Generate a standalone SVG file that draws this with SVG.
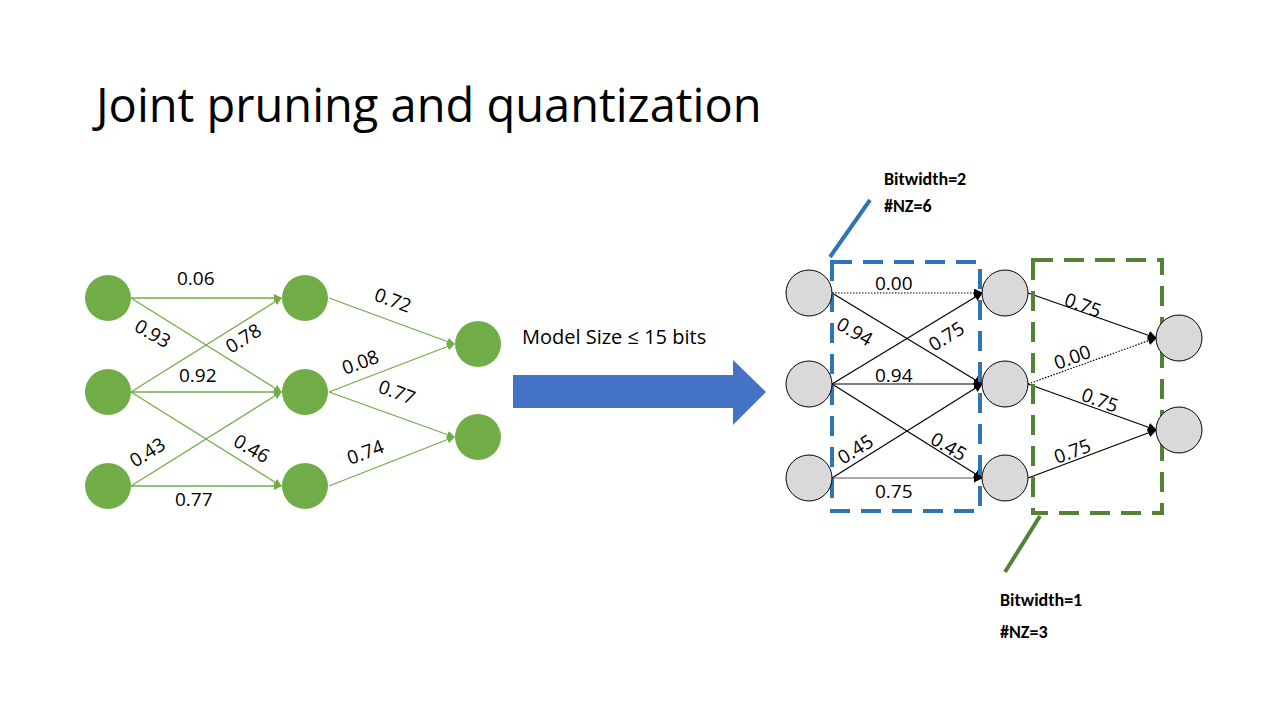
<svg xmlns="http://www.w3.org/2000/svg" width="1280" height="720" viewBox="0 0 1280 720">
<style>
text{font-family:"Open Sans","Liberation Sans",sans-serif;fill:#000}
.g{fill:#70ad47}
.gr{fill:#d9d9d9;stroke:#000;stroke-width:1}
.ge{stroke:#70ad47;stroke-width:1.3;fill:none;marker-end:url(#ag)}
.be{stroke:#000;stroke-width:1.2;fill:none;marker-end:url(#ab)}
.dot{stroke-dasharray:1.5 1.5}
.w{font-size:19px}
.b{font-weight:bold;font-size:18px;font-family:"Calibri","Liberation Sans",sans-serif}
</style>
<defs>
<marker id="ag" markerWidth="8" markerHeight="8" refX="7" refY="4" orient="auto" markerUnits="userSpaceOnUse"><path d="M0,0L8,4L0,8z" fill="#70ad47"/></marker>
<marker id="ab" markerWidth="9" markerHeight="9" refX="8" refY="4.5" orient="auto" markerUnits="userSpaceOnUse"><path d="M0,0L9,4.5L0,9z" fill="#000"/></marker>
</defs>
<rect width="1280" height="720" fill="#fff"/>
<text x="96" y="122" style="font-size:47px;font-family:'Calibri Light','Open Sans','Liberation Sans',sans-serif">Joint pruning and quantization</text>
<g id="connectors">
<line class="ge" x1="131" y1="298" x2="281" y2="298"/>
<line class="ge" x1="131" y1="298" x2="281" y2="392"/>
<line class="ge" x1="131" y1="392" x2="281" y2="298"/>
<line class="ge" x1="131" y1="392" x2="281" y2="392"/>
<line class="ge" x1="131" y1="392" x2="281" y2="486"/>
<line class="ge" x1="131" y1="486" x2="281" y2="392"/>
<line class="ge" x1="131" y1="486" x2="281" y2="486"/>
<line class="ge" x1="329" y1="298" x2="454" y2="344"/>
<line class="ge" x1="329" y1="392" x2="454" y2="344"/>
<line class="ge" x1="329" y1="392" x2="454" y2="437"/>
<line class="ge" x1="329" y1="486" x2="454" y2="437"/>
<line class="be dot" x1="832" y1="293" x2="982" y2="293"/>
<line class="be" x1="832" y1="293" x2="982" y2="384"/>
<line class="be" x1="832" y1="384" x2="982" y2="293"/>
<line class="be" x1="832" y1="384" x2="982" y2="384"/>
<line class="be" x1="832" y1="384" x2="982" y2="478"/>
<line class="be" x1="832" y1="478" x2="982" y2="384"/>
<line class="be" x1="832" y1="478" x2="982" y2="478" style="stroke:#555"/>
<line class="be" x1="1028" y1="293" x2="1156" y2="338"/>
<line class="be dot" x1="1028" y1="384" x2="1156" y2="338"/>
<line class="be" x1="1028" y1="384" x2="1156" y2="430"/>
<line class="be" x1="1028" y1="478" x2="1156" y2="430"/>
</g>
<g id="left-nodes">
<circle class="g" cx="108" cy="298" r="23"/><circle class="g" cx="108" cy="392" r="23"/><circle class="g" cx="108" cy="486" r="23"/>
<circle class="g" cx="305" cy="298" r="23"/><circle class="g" cx="305" cy="392" r="23"/><circle class="g" cx="305" cy="486" r="23"/>
<circle class="g" cx="478" cy="344" r="23"/><circle class="g" cx="478" cy="437" r="23"/>
</g>
<g id="left-labels" class="w">
<text class="w" x="177" y="285">0.06</text>
<text class="w" x="133" y="330" transform="rotate(30 133 330)">0.93</text>
<text class="w" x="231" y="354" transform="rotate(-32 231 354)">0.78</text>
<text class="w" x="179" y="382">0.92</text>
<text class="w" x="135" y="468" transform="rotate(-32 135 468)">0.43</text>
<text class="w" x="232" y="445" transform="rotate(30 232 445)">0.46</text>
<text class="w" x="175" y="506">0.77</text>
<text class="w" x="373" y="300" transform="rotate(20 373 300)">0.72</text>
<text class="w" x="345" y="375" transform="rotate(-20 345 375)">0.08</text>
<text class="w" x="377" y="392" transform="rotate(20 377 392)">0.77</text>
<text class="w" x="350" y="465" transform="rotate(-20 350 465)">0.74</text>
</g>
<g id="arrow">
<text x="522" y="344" style="font-size:20px">Model Size ≤ 15 bits</text>
<path d="M513,375H733V360L766,392L733,425V408H513z" fill="#4472c4"/>
</g>
<g id="boxes">
<rect x="832" y="262" width="148" height="249" fill="none" stroke="#2e75b6" stroke-width="4" stroke-dasharray="20 11"/>
<rect x="1033" y="260" width="129" height="253" fill="none" stroke="#548235" stroke-width="4" stroke-dasharray="20 11"/>
<line x1="830" y1="257" x2="870" y2="200" stroke="#2e75b6" stroke-width="4"/>
<line x1="1040" y1="516" x2="1005" y2="572" stroke="#548235" stroke-width="4"/>
<text class="b" x="884" y="185">Bitwidth=2</text>
<text class="b" x="884" y="212">#NZ=6</text>
<text class="b" x="1000" y="606">Bitwidth=1</text>
<text class="b" x="1000" y="638">#NZ=3</text>
</g>
<g id="right-nodes">
<circle class="gr" cx="809" cy="293" r="23"/><circle class="gr" cx="809" cy="384" r="23"/><circle class="gr" cx="809" cy="478" r="23"/>
<circle class="gr" cx="1005" cy="293" r="23"/><circle class="gr" cx="1005" cy="384" r="23"/><circle class="gr" cx="1005" cy="478" r="23"/>
<circle class="gr" cx="1179" cy="338" r="23"/><circle class="gr" cx="1179" cy="430" r="23"/>
</g>
<g id="right-labels">
<text class="w" x="875" y="290">0.00</text>
<text class="w" x="835" y="328" transform="rotate(30 835 328)">0.94</text>
<text class="w" x="934" y="352" transform="rotate(-32 934 352)">0.75</text>
<text class="w" x="875" y="382">0.94</text>
<text class="w" x="843" y="465" transform="rotate(-32 843 465)">0.45</text>
<text class="w" x="929" y="443" transform="rotate(30 929 443)">0.45</text>
<text class="w" x="875" y="498">0.75</text>
<text class="w" x="1063" y="305" transform="rotate(20 1063 305)">0.75</text>
<text class="w" x="1057" y="370" transform="rotate(-20 1057 370)">0.00</text>
<text class="w" x="1080" y="400" transform="rotate(20 1080 400)">0.75</text>
<text class="w" x="1057" y="464" transform="rotate(-20 1057 464)">0.75</text>
</g>
</svg>
